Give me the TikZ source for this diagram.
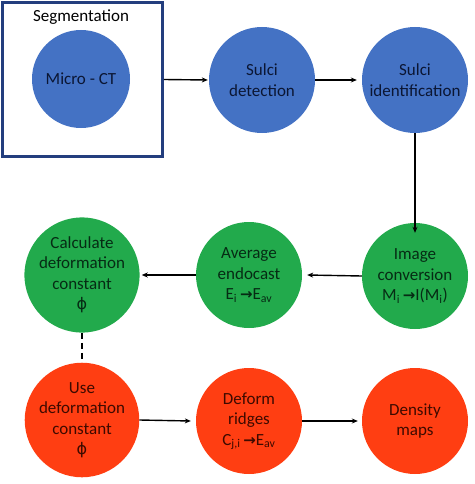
\documentclass[tikz,border=0pt]{standalone}
\usepackage{fontspec}
\setmainfont{Carlito}
\newfontfamily\djv{DejaVu Sans}
\usetikzlibrary{arrows.meta}
\definecolor{cblue}{HTML}{4472C4}
\definecolor{cgreen}{HTML}{22AA4C}
\definecolor{cred}{HTML}{FF3E12}
\definecolor{tblue}{HTML}{0B1633}
\definecolor{tgreen}{HTML}{062B14}
\definecolor{tred}{HTML}{3D0A00}
\definecolor{boxblue}{HTML}{233E7E}
\newcommand{\rarr}{{\djv\bfseries\fontsize{15pt}{15pt}\selectfont →}}
\newcommand{\phiglyph}{{\djv\fontsize{16pt}{16pt}\selectfont ϕ}}
\begin{document}
\begin{tikzpicture}[x=1pt,y=-1pt,
  every node/.style={font=\fontsize{17pt}{20.5pt}\selectfont, align=center, inner sep=0pt},
  bnode/.style={circle, fill=cblue, text=tblue, minimum size=106pt},
  gnode/.style={circle, fill=cgreen, text=tgreen, minimum size=106pt},
  rnode/.style={circle, fill=cred, text=tred, minimum size=106pt},
  conn/.style={line width=1.4pt, -{Stealth[length=6pt,width=5pt]}},
  segbox/.style={draw=boxblue, line width=2.8pt, minimum width=160pt, minimum height=154pt}]
\useasboundingbox (0,0) rectangle (474,484);
\node[segbox] (box) at (82.5,79.5) {};
\node (seglabel) at (81,17) {Segmentation};
\node[bnode, minimum size=98pt] (ct) at (81,79) {Micro - CT};
\node[bnode] (det) at (262,80) {Sulci\\detection};
\node[bnode] (ident) at (415,80) {Sulci\\identification};
\node[gnode] (conv) at (415,276) {Image\\conversion\\M\textsubscript{i}\,\rarr I(M\textsubscript{i})};
\node[gnode] (avg) at (249,275) {Average\\endocast\\E\textsubscript{i}\,\rarr E\textsubscript{av}};
\node[gnode] (calc) at (82,275) {Calculate\\deformation\\constant\\\phiglyph};
\node[rnode] (use) at (82,420) {Use\\deformation\\constant\\\phiglyph};
\node[rnode] (ridges) at (249,421) {Deform\\ridges\\C\textsubscript{j,i}\,\rarr E\textsubscript{av}};
\node[rnode] (dens) at (415,421) {Density\\maps};
\draw[conn] (box.east) -- ([xshift=-1pt]det.west);
\draw[conn] (det.east) -- ([xshift=-5pt]ident.west);
\draw[conn] (ident.south) -- ([yshift=-10pt]conv.north);
\draw[conn] (conv.west) -- ([xshift=5pt]avg.east);
\draw[conn] (avg.west) -- ([xshift=2pt]calc.east);
\draw[line width=1.6pt, dash pattern=on 6pt off 4pt] (calc.south) -- (use.north);
\draw[conn] (use.east) -- ([xshift=-5pt]ridges.west);
\draw[conn] (ridges.east) -- ([xshift=-4pt]dens.west);
\end{tikzpicture}
\end{document}
